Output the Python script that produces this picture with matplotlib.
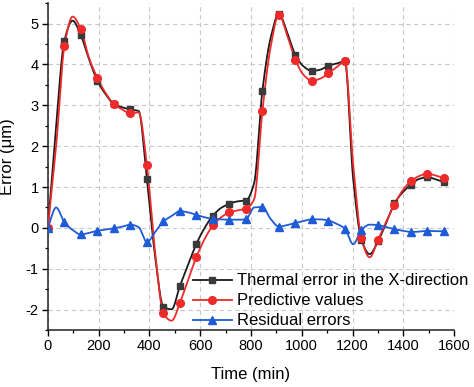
import numpy as np
import matplotlib.pyplot as plt
from matplotlib.ticker import MultipleLocator

# ---------------------------
# Data (one sample every 32.5 min, markers every 65 min)
# ---------------------------
time_min = np.arange(49) * 32.5

thermal_x = [0.00, 2.50, 4.58, 5.07, 4.71, 4.12, 3.60, 3.27, 3.03, 2.95,
             2.90, 2.86, 1.19, -0.70, -1.93, -1.99, -1.42, -0.90, -0.39, 0.00,
             0.30, 0.49, 0.59, 0.65, 0.67, 1.10, 3.36, 4.65, 5.24, 4.78,
             4.23, 3.95, 3.84, 3.87, 3.97, 4.02, 4.08, 1.20, -0.29, -0.64,
             -0.33, 0.12, 0.60, 0.87, 1.06, 1.20, 1.24, 1.19, 1.12]

predicted = [0.00, 2.00, 4.44, 5.17, 4.86, 4.15, 3.67, 3.30, 3.03, 2.90,
             2.80, 2.83, 1.54, -0.60, -2.09, -2.27, -1.84, -1.27, -0.71, -0.27,
             0.06, 0.26, 0.38, 0.43, 0.47, 0.70, 2.86, 4.43, 5.22, 4.71,
             4.11, 3.74, 3.60, 3.65, 3.78, 3.93, 4.08, 1.55, -0.25, -0.72,
             -0.30, 0.15, 0.57, 0.92, 1.14, 1.27, 1.33, 1.28, 1.22]

residual = [0.00, 0.50, 0.14, -0.05, -0.16, -0.12, -0.07, -0.04, -0.01, 0.03,
            0.08, 0.02, -0.35, -0.10, 0.16, 0.29, 0.41, 0.38, 0.32, 0.26,
            0.22, 0.21, 0.20, 0.20, 0.21, 0.50, 0.51, 0.22, 0.03, 0.07,
            0.12, 0.17, 0.21, 0.21, 0.18, 0.10, -0.02, -0.40, -0.05, 0.08,
            0.07, 0.02, -0.03, -0.07, -0.10, -0.09, -0.07, -0.08, -0.08]

labels = ["Thermal error in the X-direction", "Predictive values", "Residual errors"]


def smooth_line(x, y, n=1600):
    # shape-preserving cubic (PCHIP), only used to draw the connecting line
    x = np.asarray(x, float)
    y = np.asarray(y, float)
    h = np.diff(x)
    delta = np.diff(y) / h
    d = np.zeros_like(y)
    for k in range(1, len(x) - 1):
        if delta[k - 1] * delta[k] > 0:
            w1 = 2 * h[k] + h[k - 1]
            w2 = h[k] + 2 * h[k - 1]
            d[k] = (w1 + w2) / (w1 / delta[k - 1] + w2 / delta[k])
    d[0] = delta[0]
    d[-1] = delta[-1]
    xs = np.linspace(x[0], x[-1], n)
    j = np.clip(np.searchsorted(x, xs) - 1, 0, len(x) - 2)
    t = (xs - x[j]) / h[j]
    h00 = 2 * t**3 - 3 * t**2 + 1
    h10 = t**3 - 2 * t**2 + t
    h01 = -2 * t**3 + 3 * t**2
    h11 = t**3 - t**2
    ys = h00 * y[j] + h10 * h[j] * d[j] + h01 * y[j + 1] + h11 * h[j] * d[j + 1]
    return xs, ys


plt.rcParams["font.family"] = ["Liberation Sans", "DejaVu Sans"]
plt.rcParams["axes.unicode_minus"] = False

fig = plt.figure(figsize=(4.74, 3.87), dpi=100)
ax = fig.add_axes([0.101, 0.147, 0.857, 0.845])

series = [
    (thermal_x, "#1a1a1a", "s", "#3a3a3a", 5.0),
    (predicted, "#ee2a2a", "o", "#ee2a2a", 5.5),
    (residual, "#1e5bd6", "^", "#1e5bd6", 6.0),
]
handles = []
for (vals, col, mk, mcol, ms), lab in zip(series, labels):
    xs, ys = smooth_line(time_min, vals)
    ax.plot(xs, ys, color=col, lw=1.3, zorder=3)
    ax.plot(time_min[::2], np.asarray(vals)[::2], ls="none", marker=mk,
            ms=ms, color=mcol, mec=mcol, zorder=4)
    h, = ax.plot([], [], color=col, lw=1.3, marker=mk, ms=ms, mfc=mcol, mec=mcol)
    handles.append(h)

ax.set_xlim(0, 1600)
ax.set_ylim(-2.5, 5.5)
ax.xaxis.set_major_locator(MultipleLocator(200))
ax.xaxis.set_minor_locator(MultipleLocator(100))
ax.yaxis.set_major_locator(MultipleLocator(1))
ax.yaxis.set_minor_locator(MultipleLocator(0.5))
ax.grid(True, which="major", color="#c8c8c8", ls=(0, (4, 3)), lw=0.8)
ax.set_axisbelow(True)

for s in ["top", "right"]:
    ax.spines[s].set_visible(False)
for s in ["left", "bottom"]:
    ax.spines[s].set_linewidth(1.1)
    ax.spines[s].set_color("#222222")
ax.tick_params(which="major", direction="out", length=4, width=1.0,
               labelsize=10.5, pad=2.5)
ax.tick_params(which="minor", direction="out", length=2.5, width=0.9)

ax.set_xlabel("Time (min)", fontsize=12)
ax.set_ylabel("Error (μm)", fontsize=12)
ax.xaxis.set_label_coords(0.5, -0.112)
ax.yaxis.set_label_coords(-0.082, 0.53)

ax.legend(handles, labels, loc="lower left", bbox_to_anchor=(0.358, 0.005),
          frameon=False, fontsize=12, handlelength=2.3, handletextpad=0.35,
          labelspacing=0.3, borderpad=0, borderaxespad=0)

plt.savefig("out.png", dpi=100)
